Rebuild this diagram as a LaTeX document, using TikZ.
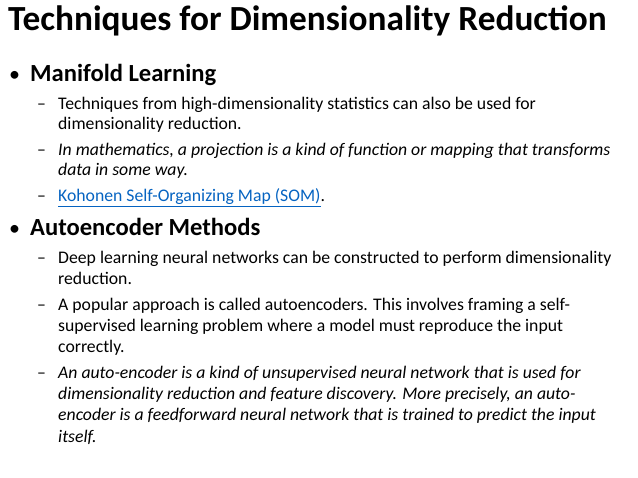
\documentclass[tikz,border=0pt]{standalone}
\usepackage{fontspec}
\setmainfont{Carlito}
\usetikzlibrary{positioning}
\begin{document}
\begin{tikzpicture}[x=1pt,y=-1pt,
  tl/.style={anchor=base west,inner sep=0pt,font=\bfseries\fontsize{35.3}{40}\selectfont},
  hd/.style={anchor=base west,inner sep=0pt,font=\bfseries\fontsize{24.6}{28}\selectfont},
  sb/.style={anchor=base west,inner sep=0pt,font=\fontsize{17.7}{21}\selectfont},
  si/.style={sb,font=\itshape\fontsize{17.7}{21}\selectfont}]
\definecolor{lnk}{RGB}{5,99,193}
\useasboundingbox (0,0) rectangle (638,478);
\node[tl] (t) at (8,31) {Techniques for Dimensionality Reduction};
\node[hd,font=\fontsize{22}{26}\selectfont] (b1) at (9,82) {•};
\node[hd] (h1) at (30,82) {Manifold Learning};
\node[sb] (d1) at (37,110) {–};
\node[sb] (l1) at (58,110) {Techniques from high-dimensionality statistics can also be used for};
\node[sb] (l2) at (58,130) {dimensionality reduction.};
\node[sb] (d2) at (37,156) {–};
\node[si] (l3) at (58,156) {In mathematics, a projection is a kind of function or mapping that transforms};
\node[si] (l4) at (58,176) {data in some way.};
\node[sb] (d3) at (37,202) {–};
\node[sb] (l5) at (58,202) {\textcolor{lnk}{\underline{Kohonen Self-Organizing Map (SOM)}}.};
\node[hd,font=\fontsize{22}{26}\selectfont] (b2) at (9,236) {•};
\node[hd] (h2) at (30,236) {Autoencoder Methods};
\node[sb] (d4) at (37,264) {–};
\node[sb] (l6) at (58,264) {Deep learning neural networks can be constructed to perform dimensionality};
\node[sb] (l7) at (58,285) {reduction.};
\node[sb] (d5) at (37,311) {–};
\node[sb] (l8) at (58,311) {A popular approach is called autoencoders. This involves framing a self-};
\node[sb] (l9) at (58,332) {supervised learning problem where a model must reproduce the input};
\node[sb] (l10) at (58,353) {correctly.};
\node[sb] (d6) at (37,379) {–};
\node[si] (l11) at (58,379) {An auto-encoder is a kind of unsupervised neural network that is used for};
\node[si] (l12) at (58,400) {dimensionality reduction and feature discovery. More precisely, an auto-};
\node[si] (l13) at (58,421) {encoder is a feedforward neural network that is trained to predict the input};
\node[si] (l14) at (58,443) {itself.};
\end{tikzpicture}
\end{document}
